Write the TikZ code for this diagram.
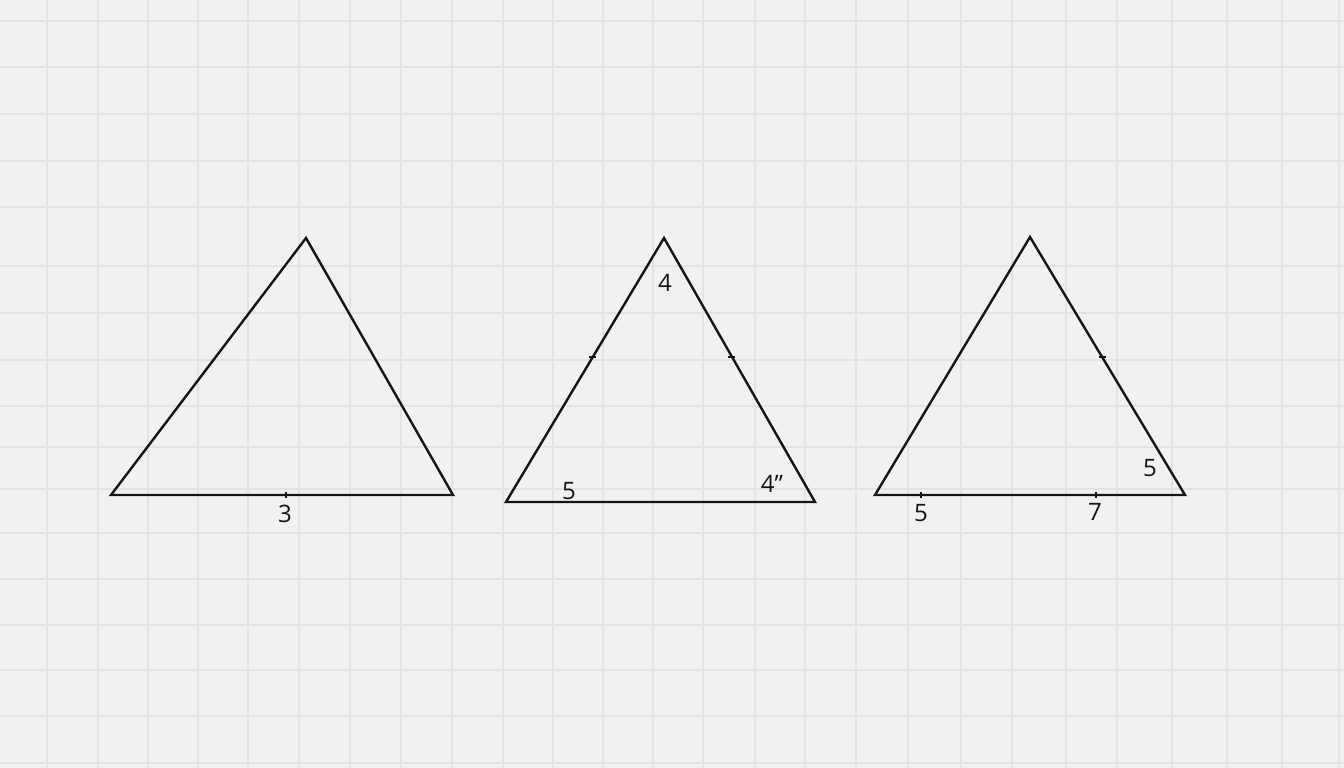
\documentclass[tikz,border=0pt]{standalone}
\usepackage{fontspec}
\setmainfont{Open Sans}
\usetikzlibrary{calc}
\definecolor{paper}{HTML}{F1F1EF}
\definecolor{gridc}{HTML}{E3E3E5}
\definecolor{ink}{HTML}{151515}
\begin{document}
\begin{tikzpicture}[x=1pt,y=-1pt,
  gridline/.style={draw=gridc,line width=1.2pt},
  tri/.style={draw=ink,line width=2.4pt,line join=miter},
  tick/.style={draw=ink,line width=1.6pt},
  lab/.style={text=ink,font=\fontsize{24}{27}\selectfont,inner sep=0pt}]
\fill[paper] (0,0) rectangle (1344,768);
\useasboundingbox (0,0) rectangle (1344,768);
\foreach \x in {47,98,148,198,248,299,350,401,452,503,553,603,653,703,755,805,856,908,961,1012,1066,1117,1172,1227,1282,1339}
  \draw[gridline] (\x,0) -- (\x,768);
\foreach \y in {21,67,114,161,207,266,313,360,406,447,489,533,579,625,670,716,763}
  \draw[gridline] (0,\y) -- (1344,\y);
% triangle 1
\coordinate (a1) at (306,238);
\coordinate (b1) at (111,495);
\coordinate (c1) at (453,495);
\draw[tri] (a1) -- (b1) -- (c1) -- cycle;
\coordinate (t1) at (286,495);
\draw[tick] ([yshift=-3]t1) -- ([yshift=3]t1);
\node[lab] (l1) at (285,514) {3};
% triangle 2
\coordinate (a2) at (664,238);
\coordinate (b2) at (506,502);
\coordinate (c2) at (815,502);
\draw[tri] (a2) -- (b2) -- (c2) -- cycle;
\coordinate (t2a) at ($(a2)!0.45!(b2)$);
\coordinate (t2b) at ($(a2)!0.45!(c2)$);
\draw[tick] ([xshift=-3.5]t2a) -- ([xshift=3.5]t2a);
\draw[tick] ([xshift=-3.5]t2b) -- ([xshift=3.5]t2b);
\node[lab] (l2a) at (665,283) {4};
\node[lab] (l2b) at (569,491) {5};
\node[lab] (l2c) at (772,484) {4"};
% triangle 3
\coordinate (a3) at (1030,237);
\coordinate (b3) at (875,495);
\coordinate (c3) at (1185,495);
\draw[tri] (a3) -- (b3) -- (c3) -- cycle;
\coordinate (t3a) at ($(a3)!0.465!(c3)$);
\draw[tick] ([xshift=-3.5]t3a) -- ([xshift=3.5]t3a);
\coordinate (t3b) at (921,495);
\coordinate (t3c) at (1096,495);
\draw[tick] ([yshift=-3]t3b) -- ([yshift=3]t3b);
\draw[tick] ([yshift=-3]t3c) -- ([yshift=3]t3c);
\node[lab] (l3a) at (1150,468) {5};
\node[lab] (l3b) at (921,513) {5};
\node[lab] (l3c) at (1095,512) {7};
\end{tikzpicture}
\end{document}
